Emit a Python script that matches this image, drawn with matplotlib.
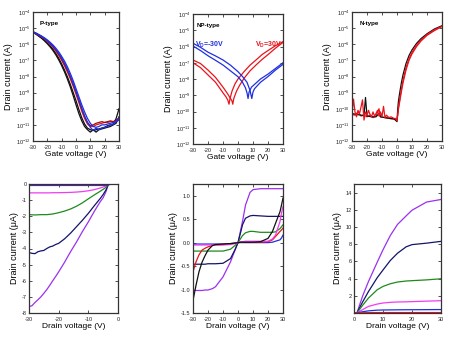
import numpy as np
import matplotlib
matplotlib.use('Agg')
import matplotlib.pyplot as plt
from matplotlib.ticker import FormatStrFormatter, NullLocator

plt.rcParams['font.family'] = ['Liberation Sans', 'DejaVu Sans']
plt.rcParams['mathtext.fontset'] = 'custom'
plt.rcParams['mathtext.rm'] = 'Liberation Sans'
plt.rcParams['mathtext.it'] = 'Liberation Sans:italic'
plt.rcParams['mathtext.bf'] = 'Liberation Sans:bold'
plt.rcParams['axes.unicode_minus'] = False

RED = '#e8141c'
BLUE = '#1f2fe0'
BLACK = '#111111'
VIOLET = '#9b30f0'
NAVY = '#14146a'
GREEN = '#1e8a1e'
MAGENTA = '#f03cf0'

# ---------------- P-type transfer (log10 of Id) ----------------
vg_p = np.arange(-30, 31, 2)
p_black1 = [-5.25, -5.36, -5.48, -5.6, -5.75, -5.92, -6.1, -6.32, -6.58, -6.88, -7.22, -7.6, -8.02, -8.48,
            -8.98, -9.5, -10.05, -10.55, -10.95, -11.2, -11.3, -11.35, -11.3, -11.25, -11.2, -11.15, -11.05,
            -11.0, -10.95, -10.6, -10.0]
p_black2 = [-5.25, -5.37, -5.5, -5.63, -5.79, -5.97, -6.17, -6.4, -6.67, -6.98, -7.33, -7.72, -8.16, -8.64,
            -9.18, -9.75, -10.3, -10.75, -11.1, -11.3, -11.45, -11.3, -11.45, -11.3, -11.25, -11.2, -11.15,
            -11.1, -11.0, -10.9, -10.5]
p_red1 = [-5.25, -5.34, -5.44, -5.55, -5.68, -5.83, -6.0, -6.2, -6.43, -6.7, -7.0, -7.34, -7.72, -8.14,
          -8.6, -9.1, -9.62, -10.15, -10.6, -10.95, -11.1, -11.1, -11.0, -10.95, -10.9, -10.85, -10.85,
          -10.8, -10.8, -10.75, -10.65]
p_red2 = [-5.24, -5.32, -5.42, -5.53, -5.65, -5.79, -5.95, -6.14, -6.36, -6.62, -6.92, -7.25, -7.62, -8.03,
          -8.48, -8.96, -9.48, -10.0, -10.48, -10.85, -11.05, -11.0, -10.9, -10.85, -10.8, -10.85, -10.8,
          -10.75, -10.8, -10.7, -10.6]
p_blue1 = [-5.22, -5.3, -5.39, -5.49, -5.6, -5.73, -5.88, -6.05, -6.25, -6.48, -6.75, -7.05, -7.4, -7.8,
           -8.25, -8.75, -9.25, -9.75, -10.2, -10.6, -10.9, -11.1, -11.15, -11.1, -11.0, -11.0, -10.95,
           -10.9, -10.85, -10.8, -10.55]
p_blue2 = [-5.23, -5.32, -5.42, -5.53, -5.65, -5.79, -5.95, -6.13, -6.34, -6.58, -6.86, -7.18, -7.55, -7.97,
           -8.43, -8.93, -9.45, -9.97, -10.45, -10.85, -11.15, -11.35, -11.2, -11.3, -11.2, -11.15, -11.1,
           -11.0, -10.95, -10.8, -10.7]

# ---------------- NP-type transfer ----------------
np_red_a_v = [-30, -25, -20, -15, -10, -8, -6.8, -6, -5.3, -4, -2, 0, 4, 8, 12, 16, 20, 25, 30]
np_red_a = [-7.0, -7.3, -7.75, -8.2, -8.85, -9.1, -9.3, -9.55, -9.2, -8.75, -8.3, -8.0, -7.55, -7.15,
            -6.83, -6.5, -6.25, -5.95, -5.7]
np_red_b_v = [-30, -25, -20, -15, -10, -7, -5, -4, -3.5, -2.8, -1, 1, 4, 8, 12, 16, 20, 25, 30]
np_red_b = [-6.83, -7.05, -7.45, -7.9, -8.5, -8.9, -9.2, -9.35, -9.55, -9.2, -8.75, -8.4, -7.96, -7.5,
            -7.14, -6.8, -6.5, -6.1, -5.75]
np_blue_a_v = [-30, -25, -20, -15, -10, -5, 0, 3, 5, 6, 6.7, 7.4, 9, 12, 15, 20, 25, 30]
np_blue_a = [-5.97, -6.25, -6.57, -6.85, -7.14, -7.5, -7.86, -8.2, -8.55, -8.85, -9.2, -8.8, -8.5, -8.25,
             -8.0, -7.7, -7.35, -7.0]
np_blue_b_v = [-30, -25, -20, -15, -10, -5, 0, 3, 6, 8, 9.2, 10, 11, 13, 15, 20, 25, 30]
np_blue_b = [-5.8, -6.05, -6.35, -6.58, -6.83, -7.15, -7.55, -7.85, -8.2, -8.7, -9.2, -8.8, -8.6, -8.4,
             -8.2, -7.85, -7.45, -7.1]

# ---------------- N-type transfer ----------------
n_red1_v = list(range(-30, 1)) + [0.5, 1, 2, 3, 4, 6, 8, 10, 13, 16, 20, 25, 30]
n_red1 = [-10.3, -9.4, -10.2, -10.5, -10.1, -10.3, -9.9, -9.45, -10.7, -10.2, -10.4, -10.1, -10.35, -10.5,
          -10.2, -10.45, -10.3, -10.1, -10.45, -10.2, -10.5, -9.85, -10.55, -10.4, -10.5, -10.55, -10.5,
          -10.55, -10.6, -10.6, -10.75,
          -10.3, -9.9, -9.3, -8.75, -8.25, -7.45, -6.9, -6.5, -6.05, -5.75, -5.4, -5.1, -4.88]
n_red2_v = [-30, -28, -26, -24, -22, -20, -18, -16, -14, -12, -11, -8, -5, -2, 0, 0.5, 1, 2, 3, 4, 6, 8,
            10, 13, 16, 20, 25, 30]
n_red2 = [-10.35, -10.4, -10.2, -10.45, -10.4, -10.5, -10.4, -10.55, -10.45, -10.0, -10.5, -10.55, -10.6,
          -10.65, -10.7, -10.4, -10.0, -9.45, -8.9, -8.4, -7.6, -7.0, -6.6, -6.15, -5.8, -5.45, -5.15, -4.9]
n_black_v = [-30, -27, -24, -22, -21, -20, -17, -14, -12, -11, -8, -5, -2, 0, 0.5, 1, 2, 3, 4, 6, 8, 10,
             13, 16, 20, 25, 30]
n_black = [-10.3, -10.35, -10.4, -10.4, -9.3, -10.45, -10.5, -10.5, -10.3, -10.5, -10.55, -10.6, -10.62,
           -10.8, -10.0, -9.5, -8.9, -8.35, -7.9, -7.2, -6.7, -6.35, -5.95, -5.65, -5.35, -5.05, -4.85]

# ---------------- P-type output (uA) ----------------
pv = [-30, -29, -28, -27, -26, -25, -24, -23, -22, -21, -20, -18, -16, -14, -12, -10, -8, -6, -5, -4,
      -3.5, -3, -2, 0]
po_violet = [-7.6, -7.55, -7.35, -7.18, -7.0, -6.78, -6.55, -6.28, -6.0, -5.73, -5.45, -4.85, -4.2, -3.6,
             -2.95, -2.35, -1.7, -1.1, -0.85, -0.45, -0.15, 0.0, 0.02, 0.02]
po_navy = [-4.25, -4.3, -4.32, -4.2, -4.15, -4.12, -4.0, -3.9, -3.85, -3.75, -3.68, -3.4, -3.05, -2.65,
           -2.25, -1.82, -1.35, -0.9, -0.65, -0.35, -0.12, 0.0, 0.02, 0.02]
po_green = [-1.9, -1.91, -1.92, -1.91, -1.9, -1.9, -1.9, -1.88, -1.86, -1.82, -1.78, -1.68, -1.55, -1.38,
            -1.17, -0.92, -0.68, -0.45, -0.33, -0.2, -0.08, 0.0, 0.02, 0.02]
po_magenta = [-0.55, -0.55, -0.55, -0.55, -0.55, -0.55, -0.55, -0.55, -0.54, -0.54, -0.54, -0.53, -0.52,
              -0.5, -0.47, -0.42, -0.35, -0.25, -0.19, -0.12, -0.06, -0.02, 0.02, 0.02]
po_blue = [-0.09] * 21 + [-0.04, 0.01, 0.01]
po_red = [-0.04] * 21 + [-0.02, 0.01, 0.01]

# ---------------- NP-type output (uA) ----------------
npv = [-30, -28, -26, -24, -22, -20, -17, -15, -10, -5, -2, 0, 2, 3, 5, 8, 10, 15, 20, 23, 25, 28, 29, 30]
npo_violet = [-1.01, -1.02, -1.02, -1.02, -1.01, -1.01, -0.98, -0.94, -0.73, -0.41, -0.16, 0.0, 0.3,
              0.45, 0.8, 1.07, 1.13, 1.15, 1.15, 1.15, 1.15, 1.15, 1.15, 1.15]
npo_navy = [-0.46, -0.46, -0.46, -0.46, -0.46, -0.45, -0.45, -0.45, -0.44, -0.34, -0.15, 0.0, 0.25, 0.38,
            0.52, 0.57, 0.58, 0.57, 0.56, 0.56, 0.56, 0.56, 0.56, 0.56]
npo_green = [-0.18, -0.18, -0.18, -0.18, -0.18, -0.18, -0.18, -0.18, -0.18, -0.14, -0.06, 0.0, 0.1, 0.15,
             0.21, 0.24, 0.24, 0.22, 0.22, 0.22, 0.23, 0.3, 0.34, 0.38]
npo_black = [-1.23, -0.91, -0.62, -0.42, -0.28, -0.16, -0.06, -0.04, -0.03, -0.02, -0.01, 0.0, 0.01,
             0.01, 0.01, 0.01, 0.01, 0.02, 0.09, 0.24, 0.41, 0.66, 0.8, 0.95]
npo_red = [-0.62, -0.41, -0.26, -0.16, -0.12, -0.09, -0.06, -0.05, -0.04, -0.03, -0.01, 0.0, 0.01, 0.01,
           0.01, 0.01, 0.01, 0.01, 0.02, 0.06, 0.13, 0.24, 0.27, 0.31]
npo_magenta = [-0.05, -0.05, -0.05, -0.05, -0.05, -0.05, -0.05, -0.05, -0.05, -0.04, -0.02, 0.0, 0.02,
               0.02, 0.03, 0.03, 0.03, 0.03, 0.03, 0.08, 0.16, 0.45, 0.63, 0.77]
npo_blue = [-0.03, -0.03, -0.03, -0.03, -0.03, -0.03, -0.03, -0.03, -0.03, -0.02, -0.01, 0.0, 0.0, 0.0,
            0.0, 0.0, 0.0, 0.0, 0.0, 0.01, 0.03, 0.06, 0.1, 0.16]

# ---------------- N-type output (uA) ----------------
nv = [0, 1, 3, 5, 8, 10, 12.5, 15, 18, 20, 25, 30]
no_violet = [0, 0, 2.0, 3.67, 5.9, 7.35, 9.0, 10.3, 11.3, 11.95, 12.9, 13.2]
no_navy = [0, 0, 1.3, 2.5, 4.1, 5.0, 6.1, 6.95, 7.7, 7.95, 8.12, 8.33]
no_green = [0, 0, 0.9, 1.74, 2.7, 3.09, 3.4, 3.6, 3.72, 3.76, 3.85, 3.98]
no_magenta = [0, 0, 0.4, 0.77, 1.04, 1.16, 1.24, 1.28, 1.3, 1.32, 1.38, 1.43]
no_blue = [0, 0, 0.15, 0.25, 0.33, 0.35, 0.36, 0.37, 0.38, 0.38, 0.39, 0.4]
no_red = [0, 0, 0.03, 0.04, 0.05, 0.05, 0.05, 0.05, 0.05, 0.05, 0.05, 0.05]

fig = plt.figure(figsize=(4.74, 3.53), dpi=100)


def box(l, t, r, b):
    ax = fig.add_axes([l / 474, 1 - b / 353, (r - l) / 474, (b - t) / 353])
    ax.tick_params(direction='in', length=2, width=0.6, labelsize=4, top=True, right=True,
                   colors='#333333', labelcolor='#222222')
    ax.tick_params(axis='x', pad=2.8)
    ax.tick_params(axis='y', pad=1.8)
    for s in ax.spines.values():
        s.set_linewidth(0.9)
        s.set_color('#333333')
    return ax


def style_top(ax):
    ax.set_yscale('log')
    ax.set_xlim(-30, 30)
    ax.set_ylim(1e-12, 1e-4)
    ax.set_xticks([-30, -20, -10, 0, 10, 20, 30])
    ax.set_yticks([10.0 ** k for k in range(-12, -3)])
    ax.yaxis.set_minor_locator(NullLocator())
    ax.set_xlabel('Gate voltage (V)', fontsize=6, labelpad=1)
    ax.set_ylabel('Drain current (A)', fontsize=6.5, labelpad=2)


lw = 0.9

ax1 = box(33, 12, 119, 141)
for y, c in [(p_black1, BLACK), (p_black2, BLACK), (p_red1, RED), (p_red2, '#9a0c10'),
             (p_blue1, BLUE), (p_blue2, BLUE)]:
    ax1.plot(vg_p, 10.0 ** np.array(y), color=c, lw=lw)
style_top(ax1)
ax1.text(0.08, 0.93, 'P-type', transform=ax1.transAxes, fontsize=4.5, fontweight='bold', va='top')

ax2 = box(193, 14, 283, 144)
ax2.plot(np_red_a_v, 10.0 ** np.array(np_red_a), color=RED, lw=lw)
ax2.plot(np_red_b_v, 10.0 ** np.array(np_red_b), color=RED, lw=lw)
ax2.plot(np_blue_a_v, 10.0 ** np.array(np_blue_a), color=BLUE, lw=lw)
ax2.plot(np_blue_b_v, 10.0 ** np.array(np_blue_b), color=BLUE, lw=lw)
style_top(ax2)
ax2.text(0.04, 0.93, 'NP-type', transform=ax2.transAxes, fontsize=4.5, fontweight='bold', va='top')
ax2.text(0.02, 0.80, r'V$_\mathregular{D}$=-30V', transform=ax2.transAxes, fontsize=5,
         fontweight='bold', color=BLUE, va='top')
ax2.text(0.99, 0.80, r'V$_\mathregular{D}$=30V', transform=ax2.transAxes, fontsize=5,
         fontweight='bold', color=RED, va='top', ha='right')

ax3 = box(352, 12, 442, 141)
ax3.plot(n_red2_v, 10.0 ** np.array(n_red2), color=RED, lw=lw)
ax3.plot(n_black_v, 10.0 ** np.array(n_black), color=BLACK, lw=lw)
ax3.plot(n_red1_v, 10.0 ** np.array(n_red1), color=RED, lw=lw)
style_top(ax3)
ax3.text(0.09, 0.93, 'N-type', transform=ax3.transAxes, fontsize=4.5, fontweight='bold', va='top')

# bottom row
ax4 = box(29, 184, 118, 313)
for y, c in [(po_violet, VIOLET), (po_navy, NAVY), (po_green, GREEN), (po_magenta, MAGENTA),
             (po_blue, BLUE), (po_red, RED)]:
    ax4.plot(pv, y, color=c, lw=lw)
ax4.set_xlim(-30, 0)
ax4.set_ylim(-8, 0)
ax4.set_xticks([-30, -20, -10, 0])
ax4.set_yticks(range(-8, 1))
ax4.set_xlabel('Drain voltage (V)', fontsize=6, labelpad=1)
ax4.set_ylabel('Drain current (\u03bcA)', fontsize=6.5, labelpad=2)

ax5 = box(193, 184, 283, 313)
for y, c in [(npo_violet, VIOLET), (npo_navy, NAVY), (npo_green, GREEN), (npo_blue, BLUE),
             (npo_red, RED), (npo_magenta, MAGENTA), (npo_black, BLACK)]:
    ax5.plot(npv, y, color=c, lw=lw)
ax5.set_xlim(-30, 30)
ax5.set_ylim(-1.5, 1.25)
ax5.set_xticks([-30, -20, -10, 0, 10, 20, 30])
ax5.set_yticks([-1.5, -1.0, -0.5, 0.0, 0.5, 1.0])
ax5.yaxis.set_major_formatter(FormatStrFormatter('%.1f'))
ax5.set_xlabel('Drain voltage (V)', fontsize=6, labelpad=1)
ax5.set_ylabel('Drain current (\u03bcA)', fontsize=6.5, labelpad=2)

ax6 = box(354, 184, 441, 313)
for y, c in [(no_violet, VIOLET), (no_navy, NAVY), (no_green, GREEN), (no_magenta, MAGENTA),
             (no_blue, BLUE), (no_red, RED)]:
    ax6.plot(nv, y, color=c, lw=lw)
ax6.set_xlim(0, 30)
ax6.set_ylim(0, 15)
ax6.set_xticks([0, 10, 20, 30])
ax6.set_yticks([2, 4, 6, 8, 10, 12, 14])
ax6.set_xlabel('Drain voltage (V)', fontsize=6, labelpad=1)
ax6.set_ylabel('Drain current (\u03bcA)', fontsize=6.5, labelpad=2)

fig.savefig('out.png', dpi=100)
